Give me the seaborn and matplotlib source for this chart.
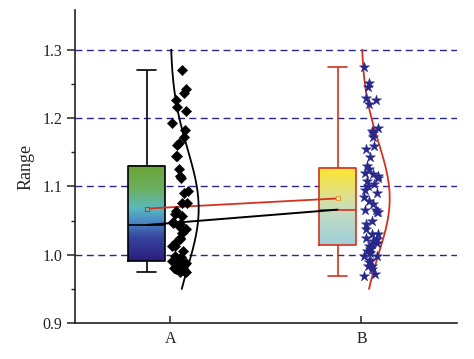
import numpy as np
import pandas as pd
import matplotlib
matplotlib.use("Agg")
import matplotlib.pyplot as plt
import matplotlib.transforms as mtransforms
from matplotlib.colors import LinearSegmentedColormap
import seaborn as sns

# ---------------- data ----------------
categories = ["A", "B"]
values_a = [1.271, 1.242, 1.237, 1.227, 1.216, 1.210, 1.193, 1.183, 1.173, 1.164,
            1.161, 1.144, 1.144, 1.125, 1.115, 1.113, 1.093, 1.091, 1.076, 1.076,
            1.064, 1.059, 1.057, 1.048, 1.047, 1.045, 1.042, 1.037, 1.032, 1.025,
            1.023, 1.018, 1.013, 1.013, 1.006, 0.998, 0.993, 0.991, 0.986, 0.981,
            0.979, 0.975, 0.975, 0.975, 0.977, 0.978, 0.980, 0.983, 0.985, 0.988,
            0.990, 0.996]
values_b = [1.275, 1.251, 1.246, 1.229, 1.227, 1.220, 1.186, 1.181, 1.178, 1.173,
            1.159, 1.154, 1.143, 1.130, 1.125, 1.120, 1.115, 1.108, 1.103, 1.101,
            1.091, 1.074, 1.065, 1.066, 1.062, 1.062, 1.049, 1.045, 1.037, 1.031,
            1.030, 1.025, 1.023, 1.020, 1.015, 1.013, 1.008, 1.006, 0.998, 0.998,
            0.993, 0.984, 0.984, 0.972, 0.969, 1.078, 1.085, 1.095, 1.112, 1.118,
            1.003, 1.010, 1.017, 0.990, 0.979]
y_ticks = [0.9, 1.0, 1.1, 1.2, 1.3]
y_label = "Range"

df = pd.DataFrame({
    "group": ["A"] * len(values_a) + ["B"] * len(values_b),
    "value": values_a + values_b,
})

# ---------------- style ----------------
sns.set_style("ticks")
plt.rcParams["font.family"] = ["Liberation Serif", "DejaVu Serif"]
plt.rcParams["font.size"] = 11

red = "#d3321f"
navy = "#27288a"
box_colors = {"A": "black", "B": red}
curve_colors = {"A": "black", "B": red}
box_shift = -0.125
box_width = 0.19

fig = plt.figure(figsize=(4.74, 3.59), dpi=100)
ax = fig.add_axes([0.158, 0.100, 0.806, 0.872])

# dashed grid lines
for yv in [1.0, 1.1, 1.2, 1.3]:
    ax.axhline(yv, color=navy, lw=1.0, ls=(0, (5, 3.2)), zorder=0.2)

# ---------------- gradient fills (behind box outlines) ----------------
cmaps = {
    "A": LinearSegmentedColormap.from_list("ga", [
        (0.0, "#2a1c7c"), (0.25, "#3646a0"), (0.42, "#4b8cc4"),
        (0.55, "#5ab9c0"), (0.75, "#6cb060"), (1.0, "#6aa434")]),
    "B": LinearSegmentedColormap.from_list("gb", [
        (0.0, "#9ecfd9"), (0.45, "#c6dcc0"), (0.7, "#e6e27a"), (1.0, "#fbe62c")]),
}
grad = np.linspace(0, 1, 256).reshape(-1, 1)
for i, (cat, vals) in enumerate(zip(categories, [values_a, values_b])):
    q1, q3 = np.percentile(vals, [25, 75])
    xc = i + box_shift
    ax.imshow(grad, cmap=cmaps[cat], origin="lower", aspect="auto",
              extent=[xc - box_width / 2, xc + box_width / 2, q1, q3],
              zorder=2.5, interpolation="bilinear")

# ---------------- boxes ----------------
n_patches = len(ax.patches)
n_lines = len(ax.lines)
sns.boxplot(data=df, x="group", y="value", hue="group", order=categories,
            hue_order=categories, palette=box_colors, fill=False, width=box_width,
            showfliers=False, linewidth=1.2, legend=False, ax=ax, zorder=3)
shift = mtransforms.Affine2D().translate(box_shift, 0) + ax.transData
for art in ax.patches[n_patches:] + ax.lines[n_lines:]:
    art.set_transform(shift)
    try:
        art.set_facecolor("none")
    except Exception:
        pass

# ---------------- connecting lines (medians / means) ----------------
pos = np.arange(len(categories)) + box_shift
medians = [np.median(values_a), np.median(values_b)]
means = [np.mean(values_a), np.mean(values_b)]
sns.lineplot(x=pos, y=medians, color="black", lw=1.4, ax=ax, zorder=4)
sns.lineplot(x=pos, y=means, color=red, lw=1.3, ax=ax, zorder=4)
ax.plot(pos[0], means[0], marker="s", ms=3.5, mfc="#9ab0a0", mec="#4a6a5a",
        mew=0.8, ls="none", zorder=5)
ax.plot(pos[1], means[1], marker="s", ms=3.5, mfc="#f4eca0", mec="#e0a040",
        mew=0.8, ls="none", zorder=5)

# ---------------- scatter points ----------------
rng = np.random.default_rng(7)
jit_a = rng.uniform(0.01, 0.09, len(values_a))
jit_b = rng.uniform(0.01, 0.09, len(values_b))
sns.scatterplot(x=0 + jit_a, y=values_a, marker="D", color="black", s=28,
                edgecolor="black", linewidth=0.3, ax=ax, zorder=6)
sns.scatterplot(x=1 + jit_b, y=values_b, marker="*", color=navy, s=60,
                edgecolor=navy, linewidth=0.3, ax=ax, zorder=6)

# ---------------- normal curves ----------------
yy = np.linspace(0.95, 1.3, 200)
for i, (cat, vals) in enumerate(zip(categories, [values_a, values_b])):
    mu, sd = np.mean(vals), np.std(vals, ddof=1)
    pdf = np.exp(-0.5 * ((yy - mu) / sd) ** 2)
    sns.lineplot(x=i + pdf * 0.148, y=yy, sort=False, orient="y",
                 color=curve_colors[cat], lw=1.3, ax=ax, zorder=5)

# ---------------- axes ----------------
ax.set_xlim(-0.5, 1.5)
ax.set_ylim(0.9, 1.358)
ax.set_xticks(range(len(categories)))
ax.set_xticklabels(categories)
ax.set_yticks(y_ticks)
ax.set_yticklabels([f"{t:.1f}" for t in y_ticks])
ax.set_yticks([0.95, 1.05, 1.15, 1.25], minor=True)
ax.set_xlabel("")
ax.set_ylabel(y_label, fontsize=13, labelpad=6)
sns.despine(ax=ax)
for s in ["left", "bottom"]:
    ax.spines[s].set_linewidth(1.2)
    ax.spines[s].set_color("#222222")
ax.tick_params(axis="y", which="major", direction="out", length=6, width=1.1,
               labelsize=11.5, pad=3, colors="#222222")
ax.tick_params(axis="y", which="minor", direction="out", length=3, width=1.0,
               colors="#222222")
ax.tick_params(axis="x", which="major", direction="in", length=5, width=1.1,
               labelsize=11.5, pad=6, colors="#222222")

fig.savefig("out.png", dpi=100)
